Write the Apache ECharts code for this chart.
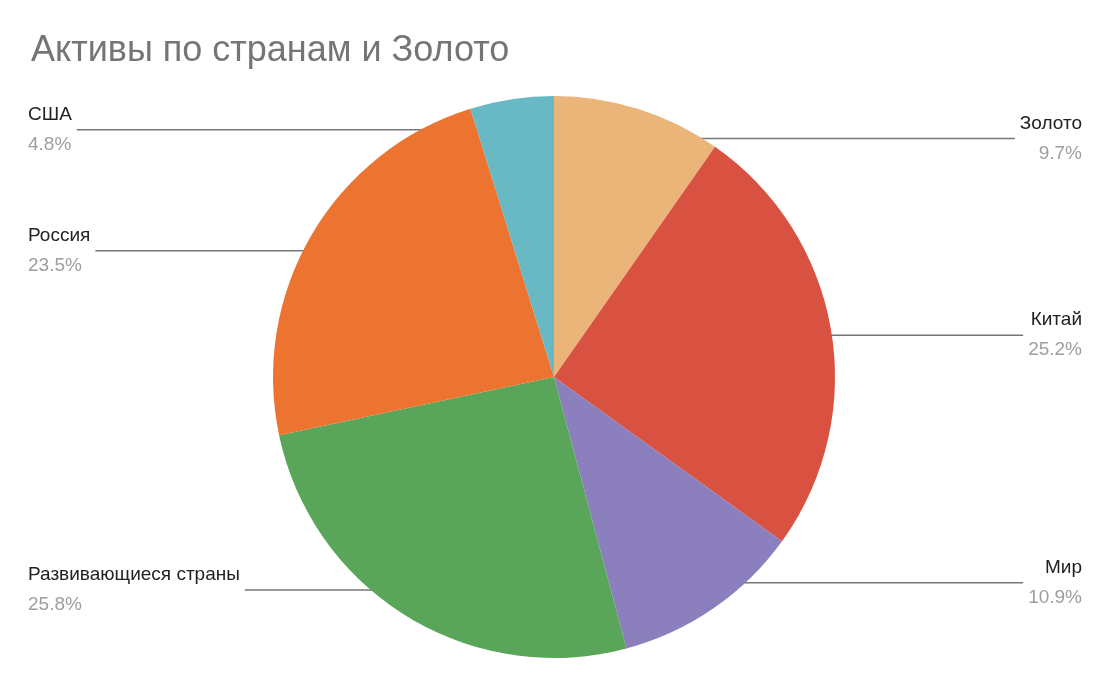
<!DOCTYPE html>
<html><head><meta charset="utf-8">
<script src="https://cdn.jsdelivr.net/npm/echarts@6/dist/echarts.min.js"></script>
<style>html,body{margin:0;padding:0;background:#fff}#c{width:1110px;height:676px}</style>
</head><body><div id="c"></div>
<script>
const categories = ['Золото','Китай','Мир','Развивающиеся страны','Россия','США'];
const values = [9.7,25.2,10.9,25.8,23.5,4.8];
const colors = ['#ebb479','#d95140','#8b7fbd','#59a65a','#ec7430','#68b9c4'];
const data = categories.map((n,i)=>({name:n,value:values[i],itemStyle:{color:colors[i]}}));
const chart = echarts.init(document.getElementById('c'));
chart.setOption({
  animation:false,
  title:{text:'Активы по странам и Золото',left:26,top:28,textStyle:{fontFamily:'Liberation Sans, Arial',fontSize:36,fontWeight:'normal',color:'#757575'}},
  series:[
    {type:'pie',center:[554,377],radius:[0,281],startAngle:90,clockwise:true,label:{show:false},labelLine:{show:false},
     itemStyle:{borderColor:'#fff',borderWidth:0},data:data,silent:true},
    {type:'pie',center:[554,377],radius:[0,240],startAngle:90,clockwise:true,
     itemStyle:{color:'rgba(0,0,0,0)'},
     data:categories.map((n,i)=>({name:n,value:values[i]})),
     label:{show:true,position:'outside',alignTo:'edge',edgeDistance:28,
       width:230,overflow:'truncate',ellipsis:'…',
       formatter:p=>'{n|'+p.name+'}\n{p|'+p.value.toFixed(1)+'%}',
       rich:{n:{fontFamily:'Liberation Sans, Arial',fontSize:19,color:'#222',lineHeight:30},
             p:{fontFamily:'Liberation Sans, Arial',fontSize:19,color:'#9e9e9e',lineHeight:30}}},
     labelLine:{show:true,length:10,length2:20,lineStyle:{color:'#777',width:1.5}}
    }
  ]
});
</script></body></html>
